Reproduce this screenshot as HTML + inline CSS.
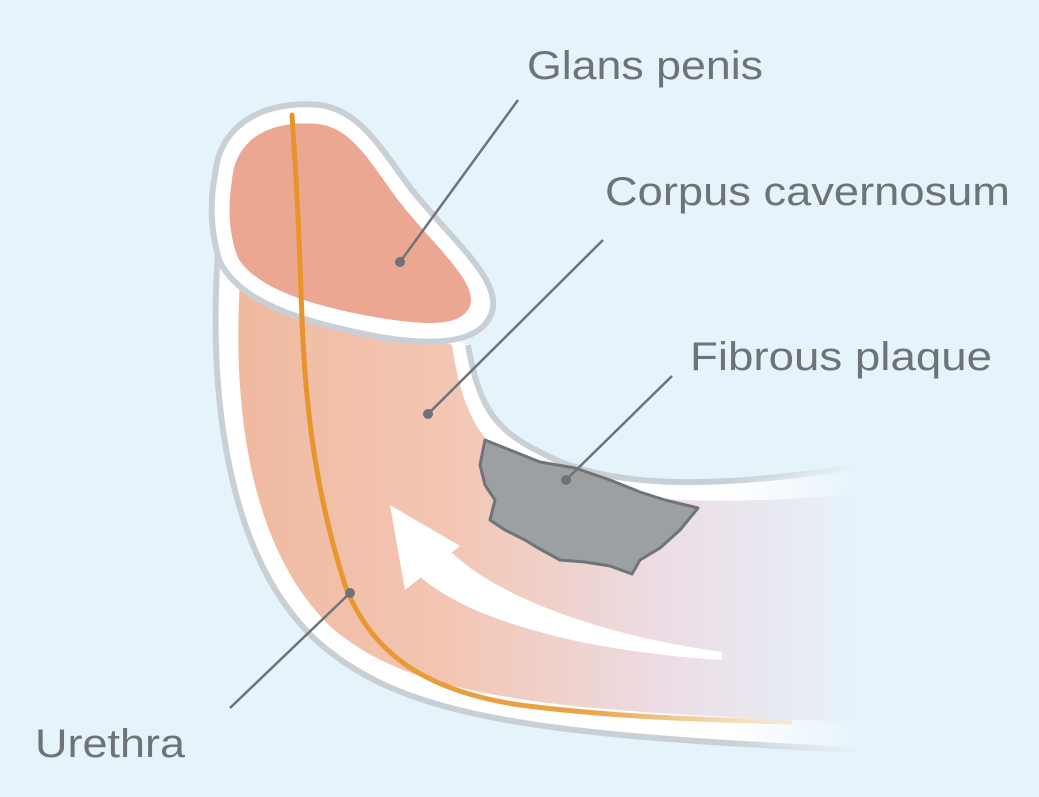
<!DOCTYPE html>
<html><head><meta charset="utf-8"><style>
html,body{margin:0;padding:0;background:#e6f3fb;}
svg{display:block}
text{font-family:"Liberation Sans",sans-serif;fill:#6d7378;font-size:40px}
</style></head><body>
<svg width="1039" height="797" viewBox="0 0 1039 797" xmlns="http://www.w3.org/2000/svg">
<defs>
<linearGradient id="sh" x1="230" y1="0" x2="860" y2="0" gradientUnits="userSpaceOnUse">
<stop offset="0" stop-color="#f0b9a0"/>
<stop offset="0.35" stop-color="#f3c6b3"/>
<stop offset="0.7" stop-color="#ecdde6"/>
<stop offset="1" stop-color="#e6f3fb"/>
</linearGradient>
<linearGradient id="wh" x1="200" y1="0" x2="860" y2="0" gradientUnits="userSpaceOnUse">
<stop offset="0" stop-color="#fff"/>
<stop offset="0.8" stop-color="#fff"/>
<stop offset="1" stop-color="#fff" stop-opacity="0"/>
</linearGradient>
<linearGradient id="st" x1="200" y1="0" x2="860" y2="0" gradientUnits="userSpaceOnUse">
<stop offset="0" stop-color="#c9d0d5"/>
<stop offset="0.8" stop-color="#c9d0d5"/>
<stop offset="1" stop-color="#c9d0d5" stop-opacity="0"/>
</linearGradient>
<linearGradient id="ur" x1="290" y1="0" x2="800" y2="0" gradientUnits="userSpaceOnUse">
<stop offset="0" stop-color="#e8932a"/>
<stop offset="0.6" stop-color="#eaa64a"/>
<stop offset="1" stop-color="#eed4a8" stop-opacity="0.4"/>
</linearGradient>
</defs>
<rect width="1039" height="797" fill="#e6f3fb"/>
<!-- shaft -->
<path d="M218,250 C208,400 228,560 318,642 C400,714 520,735 860,750 L860,466 C700,492 600,486 540,452 C490,428 478,400 468,345 Z" fill="url(#wh)"/>
<path d="M218,250 C208,400 228,560 318,642 C400,714 520,735 860,750" fill="none" stroke="url(#st)" stroke-width="6"/>
<path d="M860,466 C700,492 600,486 540,452 C490,428 478,400 468,345" fill="none" stroke="url(#st)" stroke-width="6"/>
<path d="M240,280 C232,410 250,550 332,628 C410,694 530,712 860,722 L860,494 C700,508 590,500 528,470 C478,446 462,410 452,345 Z" fill="url(#sh)"/>
<!-- glans -->
<path d="M215,175 C220,120 270,100 320,105 C360,110 382,150 412,190 C452,240 502,280 492,312 C482,342 440,347 380,337 C300,322 240,302 220,262 C210,232 210,200 215,175 Z" fill="#fff" stroke="#c9d0d5" stroke-width="6"/>
<path d="M232,180 C236,135 275,120 318,124 C352,128 370,162 398,200 C436,248 478,282 470,306 C462,326 430,326 380,318 C310,306 256,288 238,258 C228,232 228,205 232,180 Z" fill="#eba792"/>
<!-- urethra -->
<path d="M292,115 C298,200 300,260 302,320 C306,420 318,500 345,585 C370,650 420,690 520,705 C620,718 720,720 790,722" fill="none" stroke="url(#ur)" stroke-width="5" stroke-linecap="round"/>
<!-- plaque -->
<path d="M485,440 L510,450 L540,462 L575,468 L610,480 L640,492 L665,500 L698,508 L680,530 L660,548 L640,560 L632,574 L610,566 L585,562 L560,560 L538,548 L525,540 L505,530 L490,520 L495,500 L485,485 L480,465 Z" fill="#9ca0a3" stroke="#6f7478" stroke-width="3" stroke-linejoin="round"/>
<!-- arrow -->
<path d="M440,540 C485,595 600,635 722,652 L722,660 C590,652 470,622 418,575 Z" fill="#fff"/>
<path d="M390,505 L460,546 L405,590 Z" fill="#fff"/>
<!-- leaders -->
<g stroke="#6d7378" stroke-width="2.5">
<line x1="518" y1="100" x2="400" y2="262"/>
<line x1="603" y1="240" x2="428" y2="414"/>
<line x1="672" y1="376" x2="566" y2="480"/>
<line x1="230" y1="708" x2="350" y2="593"/>
</g>
<g fill="#6d7378">
<circle cx="400" cy="262" r="5"/><circle cx="428" cy="414" r="5"/><circle cx="566" cy="480" r="5"/><circle cx="350" cy="593" r="5"/>
</g>
<text x="527" y="79" textLength="236" lengthAdjust="spacingAndGlyphs">Glans penis</text>
<text x="605" y="205" textLength="405" lengthAdjust="spacingAndGlyphs">Corpus cavernosum</text>
<text x="690" y="370" textLength="302" lengthAdjust="spacingAndGlyphs">Fibrous plaque</text>
<text x="35" y="757" textLength="150" lengthAdjust="spacingAndGlyphs">Urethra</text>
</svg>
</body></html>
